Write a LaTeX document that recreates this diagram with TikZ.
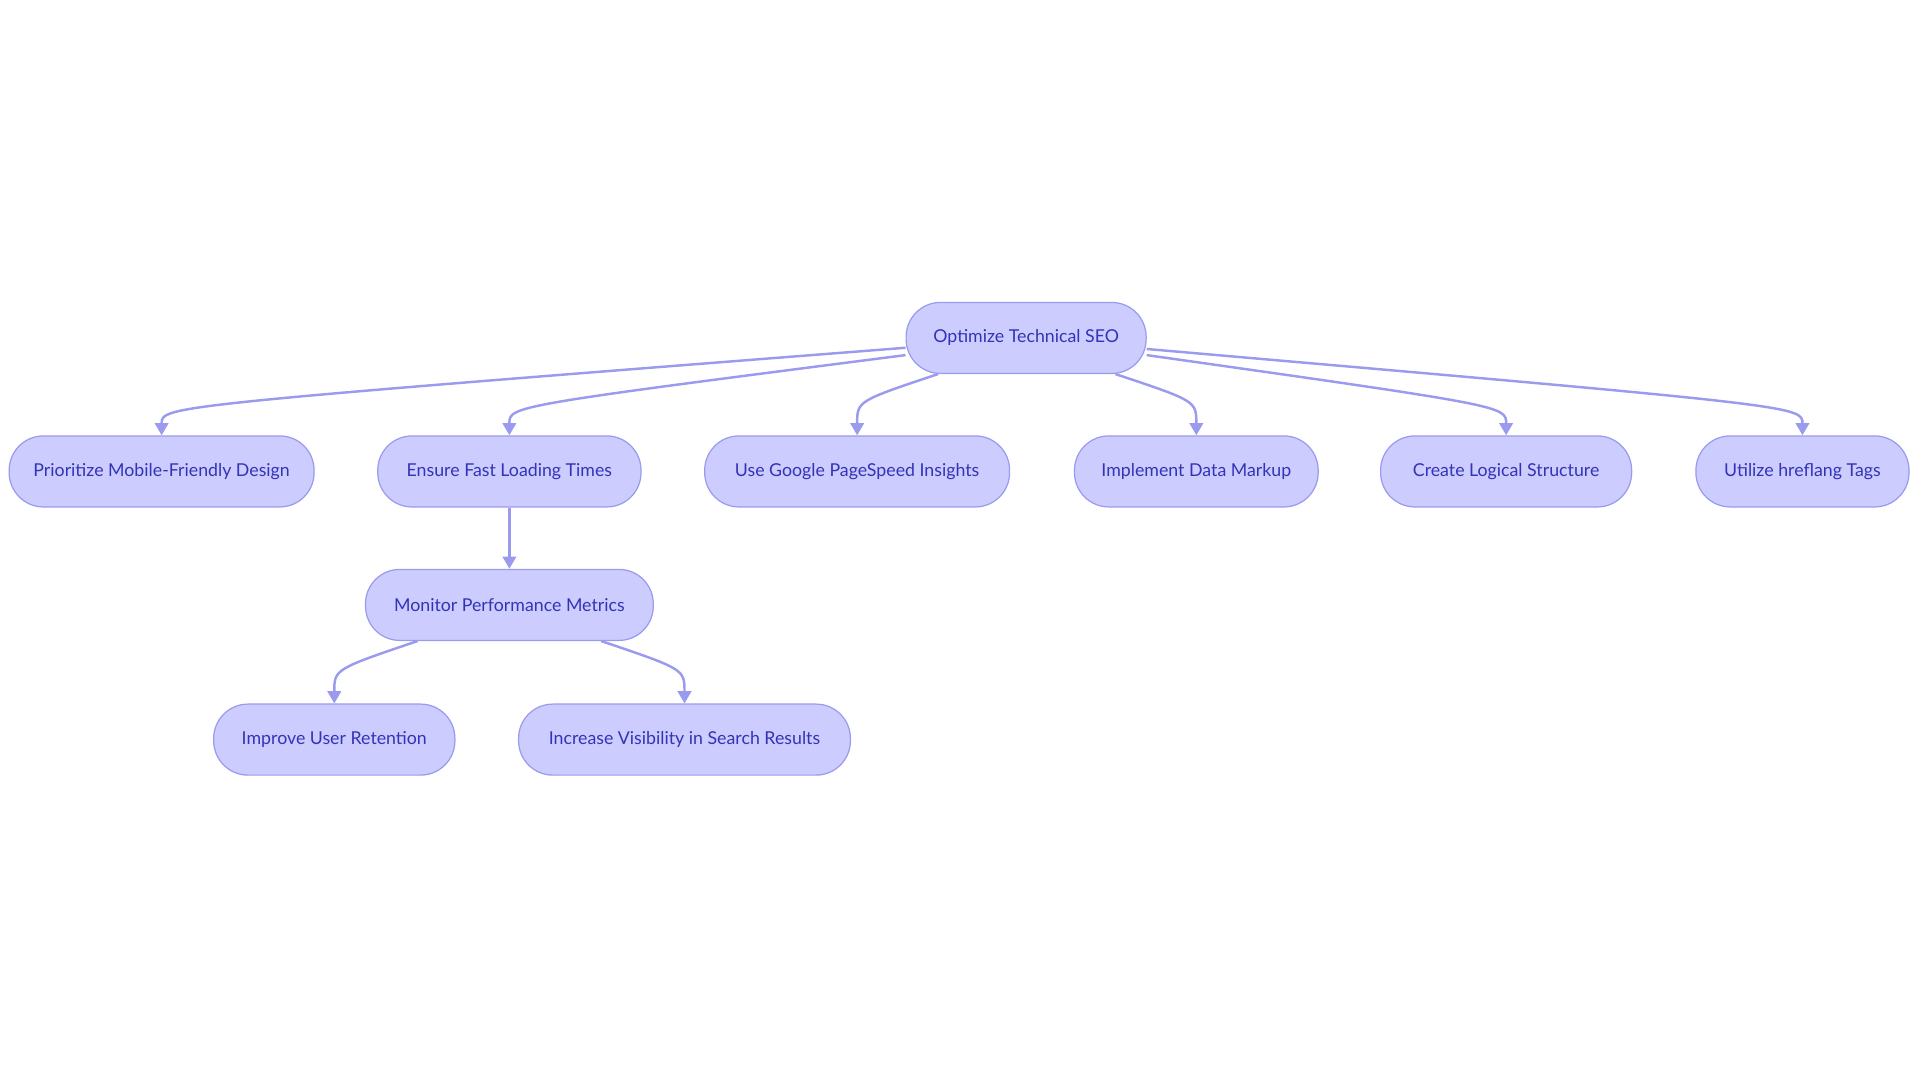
\documentclass[tikz,border=0pt]{standalone}
\usepackage{fontspec}
\setmainfont{Lato}
\usetikzlibrary{arrows.meta,calc}
\definecolor{nfill}{HTML}{CCCCFF}
\definecolor{nline}{HTML}{9A9AEE}
\definecolor{ntext}{HTML}{3333B8}
\tikzset{
  box/.style={draw=nline,fill=nfill,line width=1pt,rounded corners=28pt,minimum height=58pt,text=ntext,font=\fontsize{14.5}{17}\selectfont,inner sep=0pt},
  edge/.style={draw=nline,line width=2pt,-{Triangle[length=10pt,width=11pt]}}
}
\begin{document}
\begin{tikzpicture}[x=1pt,y=-1pt]
\useasboundingbox (0,0) rectangle (1568,884);
\node[box,minimum width=196pt] (root) at (838,276) {Optimize Technical SEO};
\node[box,minimum width=249pt] (a) at (132,385) {Prioritize Mobile-Friendly Design};
\node[box,minimum width=215pt] (b) at (416,385) {Ensure Fast Loading Times};
\node[box,minimum width=249pt] (c) at (700,385) {Use Google PageSpeed Insights};
\node[box,minimum width=199pt] (d) at (977,385) {Implement Data Markup};
\node[box,minimum width=205pt] (e) at (1230,385) {Create Logical Structure};
\node[box,minimum width=174pt] (f) at (1472,385) {Utilize hreflang Tags};
\node[box,minimum width=235pt] (m) at (416,494) {Monitor Performance Metrics};
\node[box,minimum width=197pt] (g) at (273,604) {Improve User Retention};
\node[box,minimum width=271pt] (h) at (559,604) {Increase Visibility in Search Results};
\coordinate (sa) at ($(root.west)+(0,8)$);
\coordinate (sb) at ($(root.west)+(0,14)$);
\coordinate (sc) at ($(root.south)+(-72,0)$);
\coordinate (sd) at ($(root.south)+(73,0)$);
\coordinate (se) at ($(root.east)+(0,14)$);
\coordinate (sf) at ($(root.east)+(0,9)$);
\coordinate (sg) at ($(m.south)+(-75,0)$);
\coordinate (sh) at ($(m.south)+(75,0)$);
\foreach \s/\t in {sa/a,sb/b,se/e,sf/f}{
  \draw[edge] (\s) .. controls ($(\t.north)+(0,-24)$) .. (\t.north);
}
\foreach \s/\t in {sc/c,sd/d,sg/g,sh/h}{
  \draw[edge] (\s) .. controls ($(\t.north)+(0,-28)$) .. (\t.north);
}
\draw[edge] (b) -- (m);
\end{tikzpicture}
\end{document}
